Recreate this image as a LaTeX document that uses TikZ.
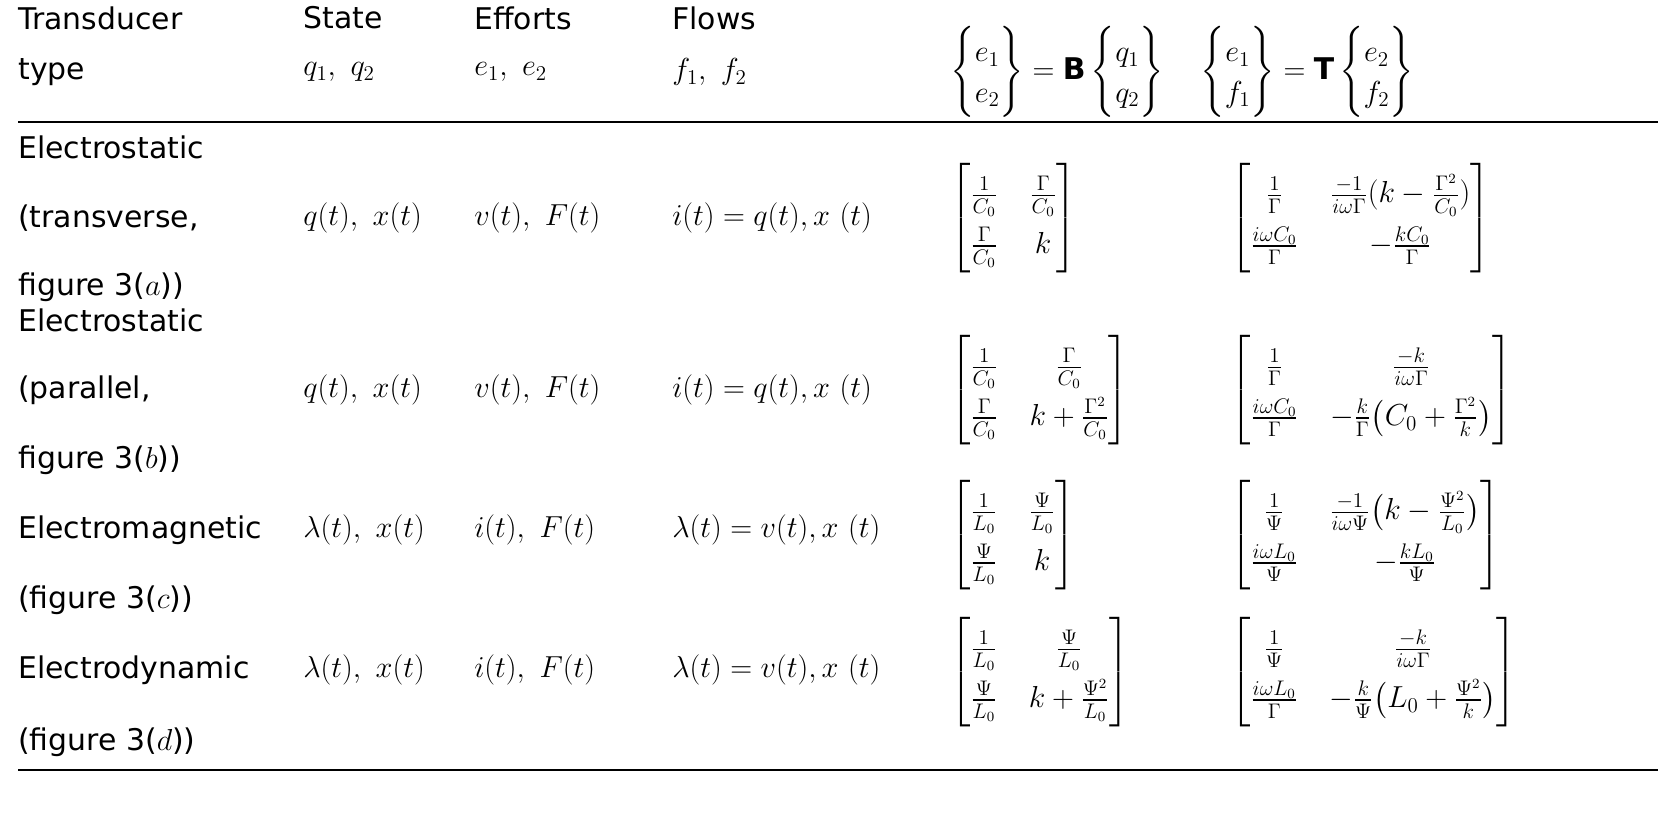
\documentclass[tikz,border=0pt]{standalone}
\usepackage{amsmath}
\usepackage{fontspec}
\setmainfont{DejaVu Sans}
\begin{document}
\renewcommand{\arraystretch}{1.45}
\setlength{\arraycolsep}{9pt}
\begin{tikzpicture}[x=0.02cm,y=-0.02cm,
  every node/.style={font=\fontsize{17}{20}\selectfont,inner sep=0pt},
  cell/.style={anchor=west}]
\useasboundingbox (0,0) rectangle (1658,831);
\draw[line width=0.6pt] (18,122) coordinate (r1a) -- (1658,122) coordinate (r1b);
\draw[line width=0.6pt] (18,770) coordinate (r2a) -- (1658,770) coordinate (r2b);
% header
\node[cell] (h1) at (18,18) {Transducer};
\node[cell] (h2) at (18,72) {type};
\node[cell] (h3) at (303,18) {State};
\node[cell] (h4) at (303,72) {$q_1,\ q_2$};
\node[cell] (h5) at (474,18) {Efforts};
\node[cell] (h6) at (474,72) {$e_1,\ e_2$};
\node[cell] (h7) at (672,18) {Flows};
\node[cell] (h8) at (672,72) {$f_1,\ f_2$};
\node[cell] (h9) at (950,72) {$\left\{\begin{matrix}e_1\\[-6pt]e_2\end{matrix}\right\}=\mathbf{B}\left\{\begin{matrix}q_1\\[-6pt]q_2\end{matrix}\right\}$};
\node[cell] (h10) at (1200,72) {$\left\{\begin{matrix}e_1\\[-6pt]f_1\end{matrix}\right\}=\mathbf{T}\left\{\begin{matrix}e_2\\[-6pt]f_2\end{matrix}\right\}$};
% row 1
\node[cell] (a1) at (18,147) {Electrostatic};
\node[cell] (a2) at (18,218) {(transverse,};
\node[cell] (a3) at (18,287) {figure 3($a$))};
\node[cell] (a4) at (303,218) {$q(t),\ x(t)$};
\node[cell] (a5) at (474,218) {$v(t),\ F(t)$};
\node[cell] (a6) at (672,218) {$i(t)=q(t), x\ (t)$};
\node[cell] (a7) at (950,218) {$\begin{bmatrix}\frac{1}{C_0}&\frac{\Gamma}{C_0}\\\frac{\Gamma}{C_0}&k\end{bmatrix}$};
\node[cell] (a8) at (1230,218) {$\begin{bmatrix}\frac{1}{\Gamma}&\frac{-1}{i\omega\Gamma}(k-\frac{\Gamma^2}{C_0})\\\frac{i\omega C_0}{\Gamma}&-\frac{kC_0}{\Gamma}\end{bmatrix}$};
% row 2
\node[cell] (b1) at (18,320) {Electrostatic};
\node[cell] (b2) at (18,390) {(parallel,};
\node[cell] (b3) at (18,460) {figure 3($b$))};
\node[cell] (b4) at (303,390) {$q(t),\ x(t)$};
\node[cell] (b5) at (474,390) {$v(t),\ F(t)$};
\node[cell] (b6) at (672,390) {$i(t)=q(t), x\ (t)$};
\node[cell] (b7) at (950,390) {$\begin{bmatrix}\frac{1}{C_0}&\frac{\Gamma}{C_0}\\\frac{\Gamma}{C_0}&k+\frac{\Gamma^2}{C_0}\end{bmatrix}$};
\node[cell] (b8) at (1230,390) {$\begin{bmatrix}\frac{1}{\Gamma}&\frac{-k}{i\omega\Gamma}\\\frac{i\omega C_0}{\Gamma}&-\frac{k}{\Gamma}\big(C_0+\frac{\Gamma^2}{k}\big)\end{bmatrix}$};
% row 3
\node[cell] (c1) at (18,530) {Electromagnetic};
\node[cell] (c2) at (18,600) {(figure 3($c$))};
\node[cell] (c4) at (303,530) {$\lambda(t),\ x(t)$};
\node[cell] (c5) at (474,530) {$i(t),\ F(t)$};
\node[cell] (c6) at (672,530) {$\lambda(t)=v(t), x\ (t)$};
\node[cell] (c7) at (950,535) {$\begin{bmatrix}\frac{1}{L_0}&\frac{\Psi}{L_0}\\\frac{\Psi}{L_0}&k\end{bmatrix}$};
\node[cell] (c8) at (1230,535) {$\begin{bmatrix}\frac{1}{\Psi}&\frac{-1}{i\omega\Psi}\big(k-\frac{\Psi^2}{L_0}\big)\\\frac{i\omega L_0}{\Psi}&-\frac{kL_0}{\Psi}\end{bmatrix}$};
% row 4
\node[cell] (d1) at (18,670) {Electrodynamic};
\node[cell] (d2) at (18,742) {(figure 3($d$))};
\node[cell] (d4) at (303,670) {$\lambda(t),\ x(t)$};
\node[cell] (d5) at (474,670) {$i(t),\ F(t)$};
\node[cell] (d6) at (672,670) {$\lambda(t)=v(t), x\ (t)$};
\node[cell] (d7) at (950,672) {$\begin{bmatrix}\frac{1}{L_0}&\frac{\Psi}{L_0}\\\frac{\Psi}{L_0}&k+\frac{\Psi^2}{L_0}\end{bmatrix}$};
\node[cell] (d8) at (1230,672) {$\begin{bmatrix}\frac{1}{\Psi}&\frac{-k}{i\omega\Gamma}\\\frac{i\omega L_0}{\Gamma}&-\frac{k}{\Psi}\big(L_0+\frac{\Psi^2}{k}\big)\end{bmatrix}$};
\end{tikzpicture}
\end{document}
